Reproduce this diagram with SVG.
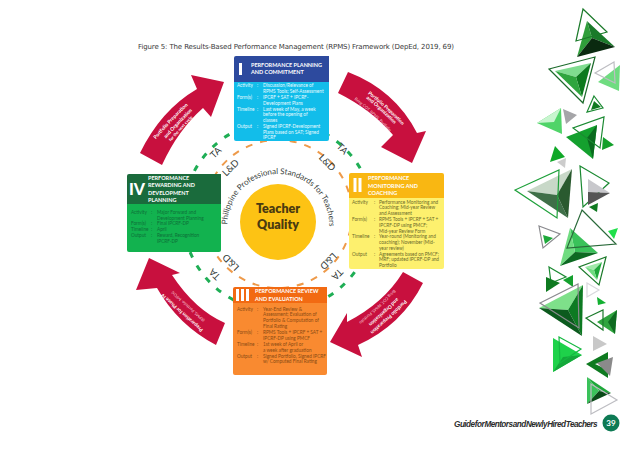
<svg xmlns="http://www.w3.org/2000/svg" width="638" height="451" viewBox="0 0 638 451">
<style>
text{font-family:"Lato","Liberation Sans",sans-serif}
.hd{font-size:5.5px;font-weight:700;fill:#fff}
.num{font-weight:900;fill:#fff}
.b{font-size:4.7px}
.c1{fill:#e8fbff}.c4{fill:#0e6f38}.c2{fill:#6b6a2a}.c3{fill:#8a4a14}
.arr{fill:#c8103e}
.at1{font-size:5px;font-weight:700;fill:#fff}
.at2{font-size:4px;fill:#f7ccd6}
.lb{font-size:9.5px;fill:#333a38;text-anchor:middle}
.o{fill:none;stroke-width:1.2}
</style>
<defs>
<path id="pa" d="M228 234A51 51 0 1 1 328 236"/>
<path id="a11" d="M147 150Q171 120 198 96"/>
<path id="a12" d="M155 152Q178 123 205 99"/>
<path id="a13" d="M158 157Q181 128 207 104"/>
<path id="a21" d="M356 85Q387 107 412 136"/>
<path id="a22" d="M351 87Q382 109 407 138"/>
<path id="a23" d="M343 91Q374 113 399 142"/>
<path id="a31" d="M415 289Q388 318 359 341"/>
<path id="a32" d="M410 284Q383 313 354 336"/>
<path id="a33" d="M404 279Q377 308 348 331"/>
<path id="a41" d="M211 336Q183 312 155 286"/>
<path id="a42" d="M217 330Q189 306 161 280"/>
</defs>
<rect width="638" height="451" fill="#fff"/>
<text x="138" y="48.500" font-size="7" textLength="316" fill="#3b3b3b" style="font-family:'DejaVu Sans',sans-serif">Figure 5: The Results-Based Performance Management (RPMS) Framework (DepEd, 2019, 69)</text>

<g id="connectors">
<circle cx="278" cy="216" r="95" fill="none" stroke="#1fae55" stroke-width="3" stroke-dasharray="6 9"/>
<circle cx="278" cy="214" r="74" fill="none" stroke="#ee9a4a" stroke-width="2" stroke-dasharray="7 8"/>
<path id="arrow1" class="arr" d="M140 153Q161 110 197 89L191 75L224 82L211 117L203 108Q178 130 162 165Z"/>
<path id="arrow2" class="arr" d="M348 72Q395 90 417 133L426 131L412 163L381 147L393 135Q372 110 338 93Z"/>
<path id="arrow3" class="arr" d="M403 272Q384 303 347 322L347 313L330 342L362 357L358 345Q402 325 423 283Z"/>
<path id="arrow4" class="arr" d="M225 323Q195 310 172 275L180 273L149 258L136 290L157 288Q178 325 216 345Z"/>
<text class="at1"><textPath href="#a11" startOffset="50%" text-anchor="middle">Portfolio Preparation</textPath></text>
<text class="at1"><textPath href="#a12" startOffset="50%" text-anchor="middle">and Organization</textPath></text>
<text class="at1" style="font-size:4.2px"><textPath href="#a13" startOffset="50%" text-anchor="middle">for the next cycle</textPath></text>
<text class="at1"><textPath href="#a21" startOffset="50%" text-anchor="middle">Portfolio Preparation</textPath></text>
<text class="at1"><textPath href="#a22" startOffset="50%" text-anchor="middle">and Organization</textPath></text>
<text class="at2"><textPath href="#a23" startOffset="50%" text-anchor="middle">Bring COT, RPMS, Portfolio</textPath></text>
<text class="at1"><textPath href="#a31" startOffset="50%" text-anchor="middle">Portfolio Preparation</textPath></text>
<text class="at1"><textPath href="#a32" startOffset="50%" text-anchor="middle">and Organization</textPath></text>
<text class="at2"><textPath href="#a33" startOffset="50%" text-anchor="middle">Bring COT, RPMS, Portfolio</textPath></text>
<text class="at1"><textPath href="#a41" startOffset="50%" text-anchor="middle">Preparation for Phase IV</textPath></text>
<text class="at2"><textPath href="#a42" startOffset="50%" text-anchor="middle">(RPMS, Portfolio, MFOs)</textPath></text>
<text class="lb" transform="translate(218 155) rotate(-45)">TA</text>
<text class="lb" transform="translate(233 170) rotate(-45)">L&amp;D</text>
<text class="lb" transform="translate(340 151) rotate(45)">TA</text>
<text class="lb" transform="translate(325 165) rotate(45)">L&amp;D</text>
<text class="lb" transform="translate(217 272) rotate(-135)">TA</text>
<text class="lb" transform="translate(233 260) rotate(-135)">L&amp;D</text>
<text class="lb" transform="translate(335 272) rotate(135)">TA</text>
<text class="lb" transform="translate(326 259) rotate(135)">L&amp;D</text>
</g>

<g id="node-center">
<circle cx="278" cy="222" r="38" fill="#fdc314"/>
<text x="278" y="212.500" font-size="12.5" font-weight="800" fill="#4a3a10" text-anchor="middle">Teacher</text>
<text x="278" y="229" font-size="12.5" font-weight="800" fill="#4a3a10" text-anchor="middle">Quality</text>
<text font-size="8" fill="#3a3f3d"><textPath href="#pa" startOffset="50%" text-anchor="middle">Philippine Professional Standards for Teachers</textPath></text>
</g>

<g id="node-1">
<path d="M234 82V58a2 2 0 0 1 2-2H329V82Z" fill="#2d4a9e"/>
<path d="M234 82H329V139a2 2 0 0 1-2 2H236a2 2 0 0 1-2-2Z" fill="#12bdea"/>
<rect x="239" y="63" width="3" height="12" fill="#fff"/>
<text class="hd" x="251" y="67">PERFORMANCE PLANNING</text>
<text class="hd" x="251" y="74">AND COMMITMENT</text>
<text class="b c1" x="237" y="87">Activity</text><text class="b c1" x="257" y="87">:</text><text class="b c1" x="263" y="87">Discussion/Relevance of</text>
<text class="b c1" x="263" y="93">RPMS Tools; Self-Assessment</text>
<text class="b c1" x="237" y="98.500">Form(s)</text><text class="b c1" x="257" y="98.500">:</text><text class="b c1" x="263" y="98.500">IPCRF + SAT + IPCRF-</text>
<text class="b c1" x="263" y="104.500">Development Plans</text>
<text class="b c1" x="237" y="110.500">Timeline</text><text class="b c1" x="257" y="110.500">:</text><text class="b c1" x="263" y="110.500">Last week of May, a week</text>
<text class="b c1" x="263" y="116">before the opening of</text>
<text class="b c1" x="263" y="122">classes</text>
<text class="b c1" x="237" y="127.500">Output</text><text class="b c1" x="257" y="127.500">:</text><text class="b c1" x="263" y="127.500">Signed IPCRF-Development</text>
<text class="b c1" x="263" y="133.500">Plans based on SAT; Signed</text>
<text class="b c1" x="263" y="139">IPCRF</text>
</g>

<g id="node-2">
<path d="M349 198V175a2 2 0 0 1 2-2H442a2 2 0 0 1 2 2V198Z" fill="#f9b712"/>
<path d="M349 198H444V267a2 2 0 0 1-2 2H351a2 2 0 0 1-2-2Z" fill="#fdf06e"/>
<rect x="353.500" y="178" width="3" height="14" fill="#fff"/><rect x="358.500" y="178" width="3" height="14" fill="#fff"/>
<text class="hd" x="368" y="180">PERFORMANCE</text>
<text class="hd" x="368" y="187.500">MONITORING AND</text>
<text class="hd" x="368" y="195">COACHING</text>
<text class="b c2" x="352" y="203.500">Activity</text><text class="b c2" x="374" y="203.500">:</text><text class="b c2" x="379" y="203.500">Performance Monitoring and</text>
<text class="b c2" x="379" y="209">Coaching; Mid-year Review</text>
<text class="b c2" x="379" y="215">and Assessment</text>
<text class="b c2" x="352" y="220.500">Form(s)</text><text class="b c2" x="374" y="220.500">:</text><text class="b c2" x="379" y="220.500">RPMS Tools + IPCRF + SAT +</text>
<text class="b c2" x="379" y="226.500">IPCRF-DP using PMCF;</text>
<text class="b c2" x="379" y="232.500">Mid-year Review Form</text>
<text class="b c2" x="352" y="238">Timeline</text><text class="b c2" x="374" y="238">:</text><text class="b c2" x="379" y="238">Year-round (Monitoring and</text>
<text class="b c2" x="379" y="243.500">coaching); November (Mid-</text>
<text class="b c2" x="379" y="249.500">year review)</text>
<text class="b c2" x="352" y="255.500">Output</text><text class="b c2" x="374" y="255.500">:</text><text class="b c2" x="379" y="255.500">Agreements based on PMCF;</text>
<text class="b c2" x="379" y="261">MRF; updated IPCRF-DP and</text>
<text class="b c2" x="379" y="267">Portfolio</text>
</g>

<g id="node-3">
<path d="M233 303V289a2 2 0 0 1 2-2H327V303Z" fill="#f26a12"/>
<path d="M233 303H327V373a2 2 0 0 1-2 2H235a2 2 0 0 1-2-2Z" fill="#f98a30"/>
<rect x="236" y="289" width="3" height="12" fill="#fff"/><rect x="241" y="289" width="3" height="12" fill="#fff"/><rect x="246" y="289" width="3" height="12" fill="#fff"/>
<text class="hd" x="255" y="293">PERFORMANCE REVIEW</text>
<text class="hd" x="255" y="301">AND EVALUATION</text>
<text class="b c3" x="237" y="310.500">Activity</text><text class="b c3" x="257" y="310.500">:</text><text class="b c3" x="263" y="310.500">Year-End Review &amp;</text>
<text class="b c3" x="263" y="316">Assessment; Evaluation of</text>
<text class="b c3" x="263" y="322">Portfolio &amp; Computation of</text>
<text class="b c3" x="263" y="328">Final Rating</text>
<text class="b c3" x="237" y="334">Form(s)</text><text class="b c3" x="257" y="334">:</text><text class="b c3" x="263" y="334">RPMS Tools + IPCRF + SAT +</text>
<text class="b c3" x="263" y="339.500">IPCRF-DP using PMCF</text>
<text class="b c3" x="237" y="345.500">Timeline</text><text class="b c3" x="257" y="345.500">:</text><text class="b c3" x="263" y="345.500">1st week of April or</text>
<text class="b c3" x="263" y="351.500">a week after graduation</text>
<text class="b c3" x="237" y="357.500">Output</text><text class="b c3" x="257" y="357.500">:</text><text class="b c3" x="263" y="357.500">Signed Portfolio, Signed IPCRF</text>
<text class="b c3" x="263" y="363">w/ Computed Final Rating</text>
</g>

<g id="node-4">
<path d="M127 204V176a2 2 0 0 1 2-2H221V204Z" fill="#1a6b3c"/>
<path d="M127 204H221V250a2 2 0 0 1-2 2H129a2 2 0 0 1-2-2Z" fill="#12b24f"/>
<text class="num" x="129" y="195" font-size="16">IV</text>
<text class="hd" x="148" y="180">PERFORMANCE</text>
<text class="hd" x="148" y="187">REWARDING AND</text>
<text class="hd" x="148" y="194.500">DEVELOPMENT</text>
<text class="hd" x="148" y="202">PLANNING</text>
<text class="b c4" x="131" y="214">Activity</text><text class="b c4" x="151" y="214">:</text><text class="b c4" x="157" y="214">Major Forward and</text>
<text class="b c4" x="157" y="219.500">Development Planning</text>
<text class="b c4" x="131" y="225">Form(s)</text><text class="b c4" x="151" y="225">:</text><text class="b c4" x="157" y="225">Final IPCRF-DP</text>
<text class="b c4" x="131" y="231">Timeline</text><text class="b c4" x="151" y="231">:</text><text class="b c4" x="157" y="231">April</text>
<text class="b c4" x="131" y="237">Output</text><text class="b c4" x="151" y="237">:</text><text class="b c4" x="157" y="237">Reward, Recognition</text>
<text class="b c4" x="157" y="242.500">IPCRF-DP</text>
</g>

<g id="decor">
<path d="M587 21L592 38L577 57Z" fill="#2f9e3a"/><path d="M587 21L615 47L592 38Z" fill="#1a7a2a"/><path d="M577 57L615 47L592 38Z" fill="#0a2a10"/>
<path class="o" d="M583 9L607 32L576 41Z" stroke="#1b7a2a"/>
<path d="M555 71L591 63L576 77Z" fill="#7fdc8f"/><path d="M591 63L582 97L576 77Z" fill="#0d7a1e"/><path d="M555 71L582 97L576 77Z" fill="#2fa53e"/>
<path class="o" d="M549 69L595 57L583 103Z" stroke="#1b6a2a" stroke-width="1.300"/>
<path d="M620 65L619 91L598 82Z" fill="#6fdc80"/>
<path class="o" d="M595 73L614 62L615 83Z" stroke="#bdbdc2"/>
<path class="o" d="M594 96L603 108L587 112Z" stroke="#1b8a32"/><path d="M594 101L601 107L591 110Z" fill="#0f7a20"/>
<path d="M561 108L562 134L537 123Z" fill="#4fd468"/><path d="M561 108L554 122L537 123Z" fill="#c8f5cf"/>
<path d="M563 109L577 115L566 124Z" fill="#a5a5a8"/>
<path d="M597 125L593 159L566 137Z" fill="#14a02e"/><path d="M597 125L587 138L593 159Z" fill="#0a6a1e"/>
<path class="o" d="M604 117L600 148L573 128Z" stroke="#1b8a32"/>
<path d="M603 137L614 145L602 150Z" fill="#12a02a"/>
<path d="M555 146L565 157L550 162Z" fill="#10a828"/>
<path d="M557 162L566 158L565 168Z" fill="#ccc"/>
<path d="M572 169L527 191L557 195Z" fill="#c8d8c8"/><path d="M527 191L568 218L557 195Z" fill="#3f6f48"/><path d="M572 169L568 218L557 195Z" fill="#2a5a2f"/>
<path class="o" d="M559 170L557 218L515 190Z" stroke="#1ea03a"/>
<path class="o" d="M580 166L609 183L583 207Z" stroke="#1b8a32"/>
<path d="M588 179L610 193L588 192Z" fill="#c8c8cc"/><path d="M588 192L610 193L588 205Z" fill="#555"/>
<path d="M598 203L597 212L589 207Z" fill="#0f7a20"/>
<path d="M543 235L553 238L545 244Z" fill="#1ea83a"/>
<path class="o" d="M539 226L560 234L543 248Z" stroke="#8a8a8e"/>
<path d="M608 231L618 228L614 239Z" fill="#1fe04a"/>
<path d="M570 228L598 253L575 252Z" fill="#3ac25a"/><path d="M570 228L560 266L575 252Z" fill="#6fdc80"/><path d="M598 253L560 266L575 252Z" fill="#0d6a22"/>
<path class="o" d="M582 210L616 244L567 248Z" stroke="#2a6a3a"/>
<path d="M602 262L585 267L594 270Z" fill="#9fe8a8"/><path d="M602 262L597 280L594 270Z" fill="#1ea83a"/><path d="M585 267L597 280L594 270Z" fill="#6fdc80"/>
<path class="o" d="M606 257L599 285L579 267Z" stroke="#1b7a2a"/>
<path class="o" d="M549 267L566 277L551 283Z" stroke="#1b8a32"/>
<path d="M546 277L546 292L560 283Z" fill="#0e7a20"/>
<path d="M563 280L573 275L573 287Z" fill="#14a02e"/>
<path class="o" d="M587 283L599 290L587 297Z" stroke="#d8d8dc"/>
<path d="M583 285L539 308L568 310Z" fill="#7ee08a"/><path d="M583 285L582 336L568 310Z" fill="#0d7a22"/><path d="M539 308L582 336L568 310Z" fill="#0c5a1e"/>
<path class="o" d="M578 284L579 328L540 303Z" stroke="#8a8a8e"/>
<path d="M597 297L606 303L598 305Z" fill="#12b030"/>
<path d="M617 310L615 334L597 322Z" fill="#2fa53e"/><path d="M617 310L608 322L615 334Z" fill="#0e6a20"/>
<path class="o" d="M603 310L603 330L586 318Z" stroke="#1b7a2a"/>
<path d="M593 336L607 344L593 351Z" fill="#c8c8c8"/>
<path d="M553 338L582 355L553 372Z" fill="#1ed24a"/><path d="M553 372L582 355L563 357Z" fill="#14a83a"/>
<path class="o" d="M559 337L581 349L560 363Z" stroke="#14b840"/>
<path d="M608 352L608 378L586 364Z" fill="#0e7a20"/><path d="M608 360L595 364L608 370Z" fill="#fff"/>
<path d="M613 357L610 376L597 363Z" fill="#8a8a8a"/>
<path d="M587 377L611 393L599 391Z" fill="#1ea83a"/><path d="M587 377L587 404L599 391Z" fill="#3ac25a"/><path d="M587 404L611 393L599 391Z" fill="#0a4a18"/>
<path class="o" d="M591 384L617 400L591 414Z" stroke="#bdbdc2"/>
</g>

<g id="footer">
<text x="597" y="427" text-anchor="end" font-size="8.200" font-weight="700" font-style="italic" letter-spacing="-.55" word-spacing="-1.400" fill="#2b2b2b" style="font-family:'Liberation Sans',sans-serif">Guide for Mentors and Newly Hired Teachers</text>
<circle cx="611" cy="423" r="8.500" fill="#0e7a54"/>
<text x="611" y="426" font-size="8" font-weight="700" fill="#fff" text-anchor="middle">39</text>
</g>
</svg>
